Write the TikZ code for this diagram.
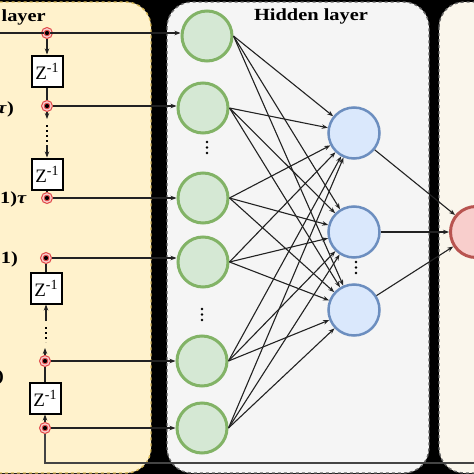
\documentclass[tikz,border=0pt]{standalone}
\usepackage{fontspec}
\setmainfont{Liberation Serif}
\usetikzlibrary{arrows.meta}
\definecolor{inpfill}{HTML}{FFF2CC}
\definecolor{inpdraw}{HTML}{D6B656}
\definecolor{hidfill}{HTML}{F5F5F5}
\definecolor{outfill}{HTML}{FAF6EC}
\definecolor{paneldraw}{HTML}{666666}
\definecolor{gfill}{HTML}{D5E8D4}
\definecolor{gdraw}{HTML}{82B366}
\definecolor{bfill}{HTML}{DAE8FC}
\definecolor{bdraw}{HTML}{6C8EBF}
\definecolor{rfill}{HTML}{F8CECC}
\definecolor{rdraw}{HTML}{B85450}
\definecolor{tapred}{HTML}{E04848}
\definecolor{lc}{HTML}{222222}
\definecolor{fbc}{HTML}{444444}
\newcommand{\zinv}{Z\raisebox{7pt}{\fontsize{14}{14}\selectfont -1}}
\newcommand{\lbl}[1]{\scalebox{1.2}[1]{\bfseries #1}}
\tikzset{
  panelbox/.style={dashed, line width=1.4pt, rounded corners=25pt},
  gnode/.style={circle, minimum size=50pt, inner sep=0pt, fill=gfill, draw=gdraw, line width=3pt},
  bnode/.style={circle, minimum size=51pt, inner sep=0pt, fill=bfill, draw=bdraw, line width=2.5pt},
  rnode/.style={circle, minimum size=51pt, inner sep=0pt, fill=rfill, draw=rdraw, line width=3pt},
  zbox/.style={rectangle, minimum size=31pt, inner sep=0pt, fill=white, draw=black, line width=2pt, font=\fontsize{19}{19}\selectfont},
  tap/.style={circle, minimum size=11pt, inner sep=0pt, fill=rfill, draw=tapred, line width=1pt},
  tapin/.style={circle, minimum size=5.5pt, inner sep=0pt, fill=black, draw=tapred, line width=0.9pt},
  conn/.style={draw=lc, line width=1.1pt, -{Stealth[length=6pt,width=4.5pt]}},
  plain/.style={draw=lc, line width=1.1pt},
  dotl/.style={draw=black, line width=2pt, dash pattern=on 2pt off 3pt},
  fbline/.style={draw=fbc, line width=1.3pt},
  ttl/.style={font=\fontsize{17}{17}\selectfont, inner sep=0pt},
  vdot/.style={circle, fill=black, minimum size=2.6pt, inner sep=0pt}
}
\begin{document}
\begin{tikzpicture}[x=1pt,y=-1pt]
\useasboundingbox (0,0) rectangle (474,474);
\clip (0,0) rectangle (474,474);
\fill[black] (0,0) rectangle (474,474);
% panels
\path[panelbox, fill=inpfill, draw=inpdraw] (-40,2) rectangle (151,473);
\path[panelbox, fill=hidfill, draw=paneldraw] (167,2) rectangle (429,473);
\path[panelbox, fill=outfill, draw=paneldraw] (439,2) rectangle (540,473);
% titles
\node[ttl, anchor=base east] (tin) at (46,21) {\lbl{Input layer}};
\node[ttl, anchor=base] (thid) at (311,20) {\lbl{Hidden layer}};
% input labels
\node[ttl, anchor=base east] (l1) at (14,113) {\lbl{x(t-\textit{τ})}};
\node[ttl, anchor=base east] (l2) at (27,203) {\lbl{x(t-(n-1)\textit{τ}}};
\node[ttl, anchor=base east] (l3) at (18,263) {\lbl{y(t-1)}};
\node[ttl, anchor=base east] (l4) at (4,381) {\lbl{y(t-m)}};
% delay boxes
\node[zbox] (z1) at (47,71) {\zinv};
\node[zbox] (z2) at (47,174) {\zinv};
\node[zbox] (z3) at (46,288) {\zinv};
\node[zbox] (z4) at (45,398) {\zinv};
% taps
\node[tap] (d1) at (47,33) {};
\node[tap] (d2) at (47,106) {};
\node[tap] (d3) at (47,198) {};
\node[tap] (d4) at (46,258) {};
\node[tap] (d5) at (45,361) {};
\node[tap] (d6) at (45,428) {};
% neurons
\node[gnode] (g1) at (207,36) {};
\node[gnode] (g2) at (203,108) {};
\node[gnode] (g3) at (203,198) {};
\node[gnode] (g4) at (203,262) {};
\node[gnode] (g5) at (202,361) {};
\node[gnode] (g6) at (202,428) {};
\node[bnode] (b1) at (354,133) {};
\node[bnode] (b2) at (354,232) {};
\node[bnode] (b3) at (354,310) {};
\node[rnode] (r) at (476,232) {};
% ellipsis dots
\foreach \n/\x/\y in {ga/207/142, gb/207/147.5, gc/207/153, gd/202/309, ge/202/314.5, gf/202/320, ba/356/262, bb/356/267.5, bc/356/273}
  \node[vdot] (\n) at (\x,\y) {};
% coordinates
\coordinate (in0) at (0,33);
\coordinate (a1) at (47,119);
\coordinate (a1s) at (47,125);
\coordinate (a1e) at (47,142);
\coordinate (a2) at (47,145);
\coordinate (a3) at (46,321);
\coordinate (a3s) at (46,327);
\coordinate (a3e) at (46,342);
\coordinate (a4) at (45,348);
\coordinate (fb1) at (45,463);
\coordinate (fb2) at (480,463);
% feedback line
\draw[fbline] (d6) -- (fb1) -- (fb2);
% input column
\draw[conn] (in0) -- (d1 -| g1.west);
\foreach \d/\g in {d2/g2, d3/g3, d4/g4, d5/g5, d6/g6}
  \draw[conn] (\d) -- (\d -| \g.west);
\draw[conn] (d1) -- (z1.north);
\draw[plain] (z1.south) -- (d2);
\draw[conn] (d2) -- (a1);
\draw[dotl] (a1s) -- (a1e);
\draw[conn] (a2) -- (z2.north);
\draw[plain] (z2.south) -- (d3);
\draw[plain] (d4) -- (z3.north);
\draw[conn] (a3) -- (z3.south);
\draw[dotl] (a3s) -- (a3e);
\draw[conn] (d5) -- (a4);
\draw[plain] (z4.north) -- (d5);
\draw[conn] (d6) -- (z4.south);
% tap centres
\foreach \d in {d1,d2,d3,d4,d5,d6}
  \node[tapin] at (\d) {};
% hidden connections
\foreach \g in {g1,g2,g3,g4,g5,g6}
  \foreach \b in {b1,b2,b3}
    \draw[conn] (\g.east) -- (\b);
\foreach \b in {b1,b2,b3}
  \draw[conn] (\b) -- (r);
\end{tikzpicture}
\end{document}
